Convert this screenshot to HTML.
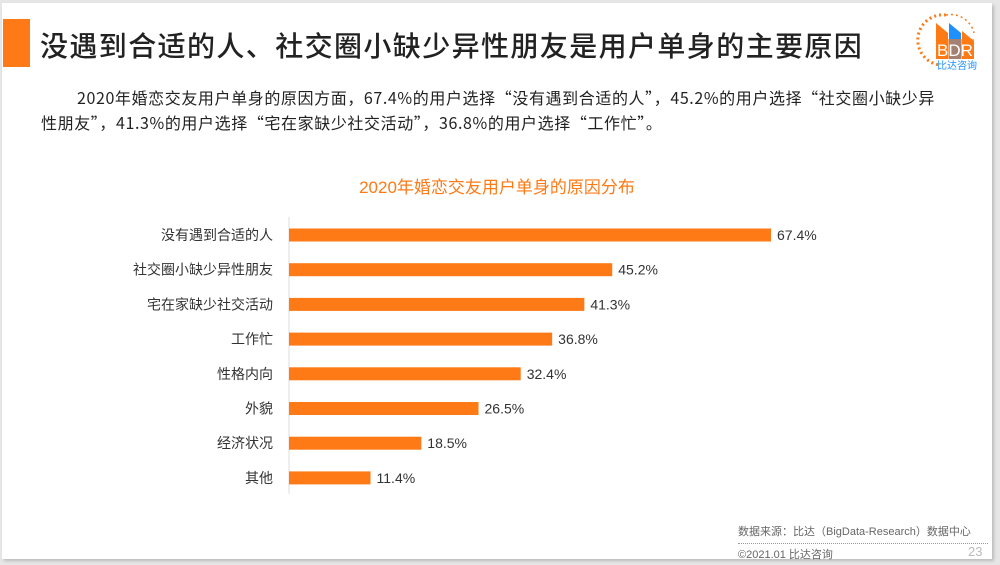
<!DOCTYPE html>
<html><head><meta charset="utf-8"><style>
body{margin:0;width:1000px;height:565px;background:#e6e6e6;position:relative;overflow:hidden;font-family:"Liberation Sans","Noto Sans CJK SC",sans-serif;}
#slide{position:absolute;left:2px;top:3px;width:990px;height:556px;background:#fff;box-shadow:2px 2px 3px #bbb;}
.abs{position:absolute;}
</style></head><body>
<div id="slide">
<div class="abs" style="left:1px;top:16px;width:27px;height:48px;background:#fd7a16"></div>
<div class="abs" style="left:38px;top:22px;font-family:'Noto Sans CJK SC',sans-serif;font-size:28px;font-weight:500;color:#222;white-space:nowrap;letter-spacing:1.4px;line-height:40px">没遇到合适的人、社交圈小缺少异性朋友是用户单身的主要原因</div>
<svg class="abs" style="left:914px;top:6px" width="80" height="62">
<path d="M30 6 A24 24 0 1 0 24 56" fill="none" stroke="#fd7a16" stroke-width="3" stroke-dasharray="2 3"/>
<path d="M30 6 A24 24 0 0 1 58 24" fill="none" stroke="#fd7a16" stroke-width="1.5" stroke-dasharray="2 3"/>
<polygon points="20,14 32,24 32,50 20,50" fill="#fd7a16"/><polygon points="33,14 45,24 45,50 33,50" fill="#1e90ff"/><polygon points="46,22 58,32 58,50 46,50" fill="#fd7a16"/>
<rect x="20" y="30" width="38" height="20" fill="#fd7a16" opacity="0.6"/>
<text x="21" y="47" font-size="17" fill="#fff" font-family="Liberation Sans">BDR</text>
<text x="21" y="60" font-size="10" fill="#1e90ff">比达咨询</text>
</svg>
<div class="abs" style="left:39px;top:82px;font-family:'Noto Sans CJK SC',sans-serif;font-size:16px;letter-spacing:0.6px;line-height:25px;color:#222;white-space:nowrap">
<span style="padding-left:36px"></span>2020年婚恋交友用户单身的原因方面，67.4%的用户选择“没有遇到合适的人”，45.2%的用户选择“社交圈小缺少异<br>性朋友”，41.3%的用户选择“宅在家缺少社交活动”，36.8%的用户选择“工作忙”。</div>
<div class="abs" style="left:0;width:990px;top:170px;text-align:center;font-size:17px;color:#fd7a16">2020年婚恋交友用户单身的原因分布</div>
<svg id="chart" class="abs" style="left:-2px;top:-3px" width="1000" height="565"></svg>
<div class="abs" style="left:736px;top:520px;font-size:11px;color:#666">数据来源：比达（BigData-Research）数据中心</div>
<div class="abs" style="left:736px;top:540px;width:250px;border-top:1px dotted #999"></div>
<div class="abs" style="left:736px;top:543px;font-size:11px;color:#666">©2021.01  比达咨询</div>
<div class="abs" style="left:966px;top:541px;font-size:13px;color:#bbb">23</div>
</div>
<script>
const categories=["没有遇到合适的人","社交圈小缺少异性朋友","宅在家缺少社交活动","工作忙","性格内向","外貌","经济状况","其他"];
const values=[67.4,45.2,41.3,36.8,32.4,26.5,18.5,11.4];
const labels=["67.4%","45.2%","41.3%","36.8%","32.4%","26.5%","18.5%","11.4%"];
const svg=document.getElementById('chart');const NS='http://www.w3.org/2000/svg';
const x0=289,scale=(771-289)/67.4,y0=235,step=34.7,bh=13;
const xs=v=>x0+v*scale, ys=i=>y0+i*step;
const ax=document.createElementNS(NS,'line');


ax.setAttribute('x1',x0);ax.setAttribute('x2',x0);ax.setAttribute('y1',ys(0)-18);ax.setAttribute('y2',ys(values.length-1)+16);ax.setAttribute('stroke','#ddd');svg.appendChild(ax);
values.forEach((v,i)=>{
 const r=document.createElementNS(NS,'rect');
 
 
 r.setAttribute('x',x0);r.setAttribute('y',ys(i)-bh/2);r.setAttribute('width',xs(v)-x0);r.setAttribute('height',bh);r.setAttribute('fill','#fd7a16');svg.appendChild(r);
 const t=document.createElementNS(NS,'text');
 
 
 t.setAttribute('x',xs(v)+6);t.setAttribute('y',ys(i)+5);t.setAttribute('font-size','14');t.setAttribute('fill','#333');t.textContent=labels[i];svg.appendChild(t);
 const c=document.createElementNS(NS,'text');
 
 
 c.setAttribute('x',x0-16);c.setAttribute('y',ys(i)+5);c.setAttribute('font-size','14');c.setAttribute('text-anchor','end');c.setAttribute('fill','#333');c.textContent=categories[i];svg.appendChild(c);
});
</script>
</body></html>
